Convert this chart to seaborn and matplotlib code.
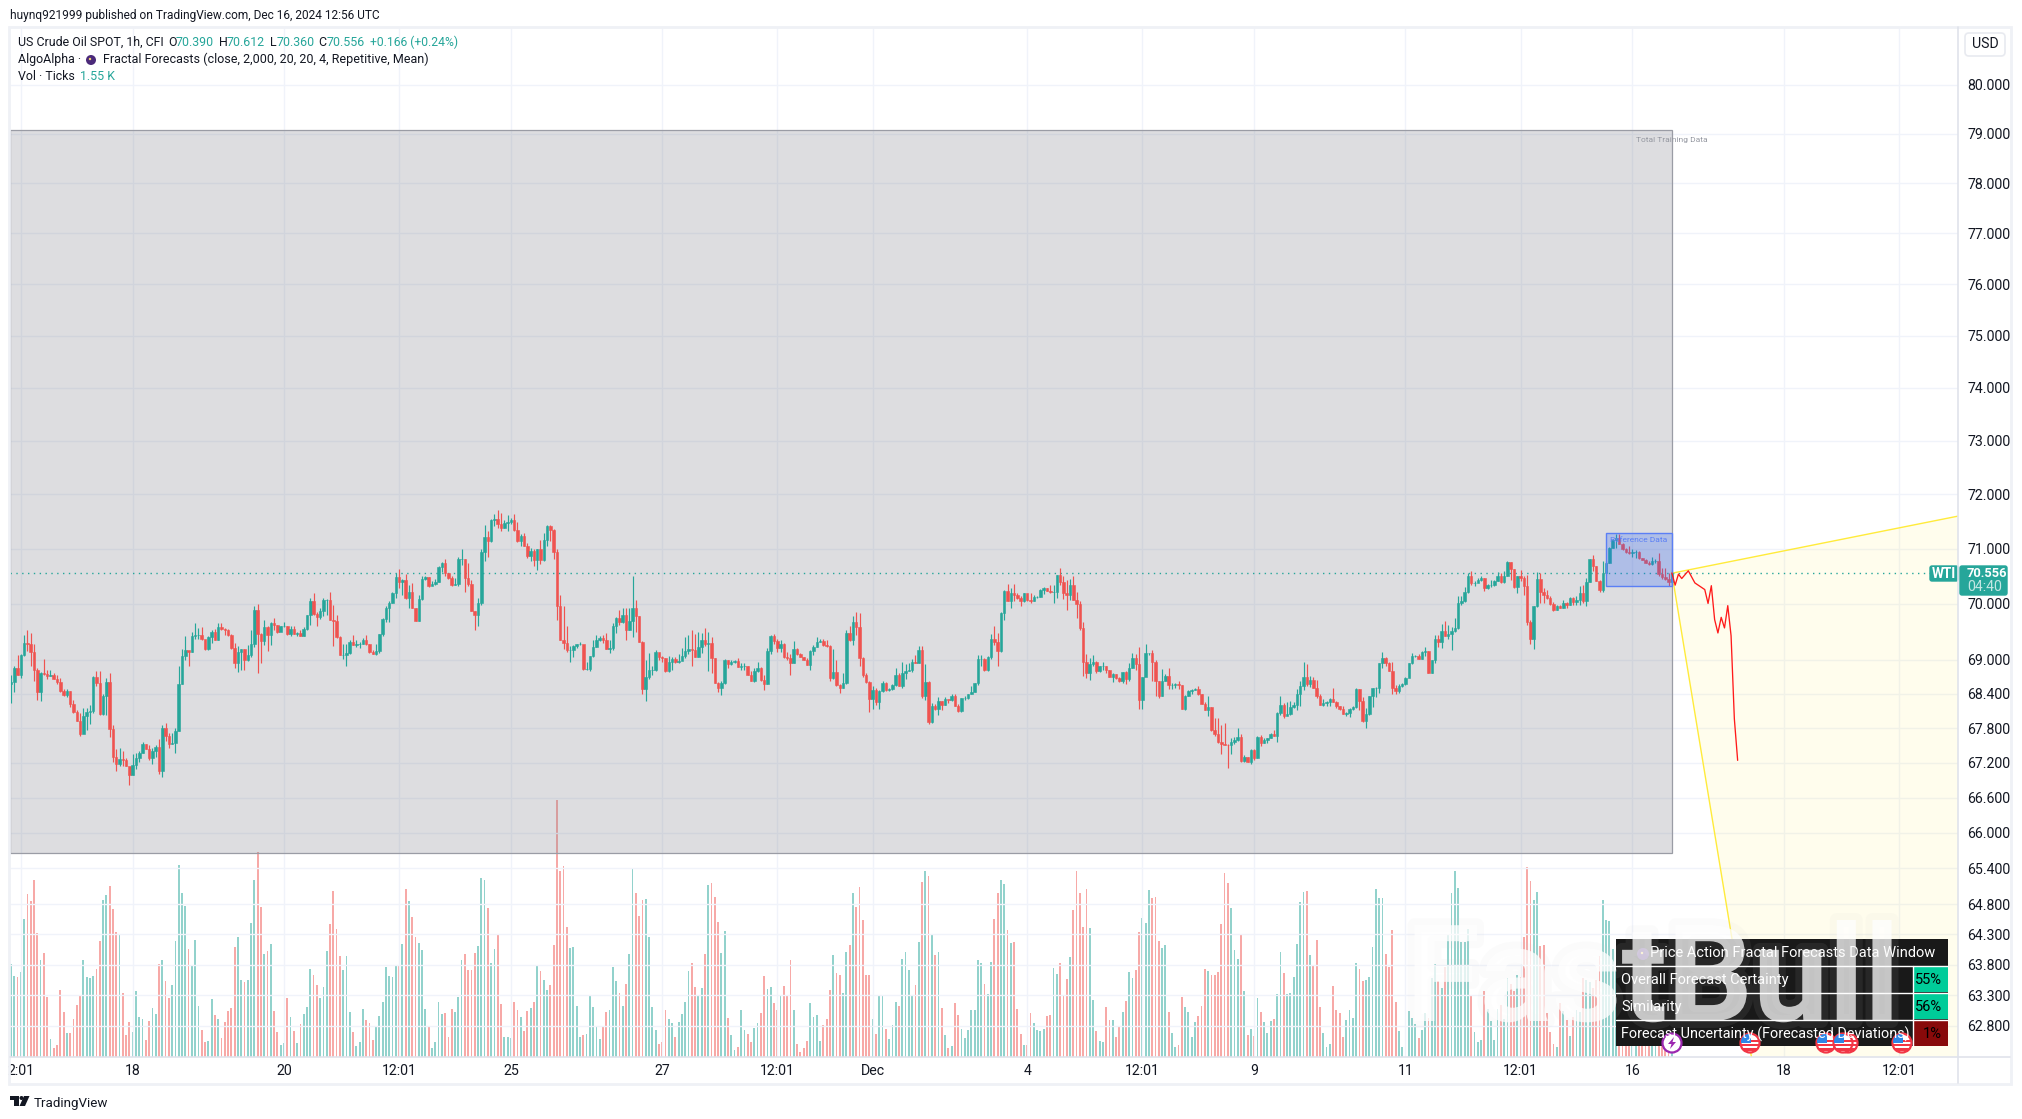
import numpy as np
import pandas as pd
import seaborn as sns
import matplotlib.pyplot as plt
import matplotlib.patheffects as pe
from matplotlib.patches import Circle, FancyBboxPatch, Polygon, Rectangle
from matplotlib.ticker import FixedLocator, FuncFormatter, NullLocator

# hourly closes, highs, lows
first_open = 68.57
closes = [
    68.61,68.85,68.73,69.09,69.30,69.29,69.14,68.83,68.44,68.77,
    68.75,68.72,68.74,68.66,68.61,68.45,68.38,68.45,68.23,68.09,
    67.92,67.70,68.01,68.08,68.10,68.70,68.59,68.05,68.36,68.61,
    67.78,67.29,67.17,67.26,67.25,67.15,66.99,67.16,67.28,67.37,
    67.53,67.43,67.28,67.41,67.48,67.06,67.81,67.67,67.53,67.54,
    67.75,68.58,69.07,69.17,69.14,69.43,69.44,69.44,69.38,69.19,
    69.41,69.50,69.35,69.59,69.55,69.54,69.44,69.21,68.95,69.14,
    69.19,69.00,69.09,69.28,69.89,69.46,69.33,69.58,69.44,69.66,
    69.62,69.49,69.61,69.61,69.47,69.55,69.47,69.48,69.43,69.55,
    69.80,70.06,69.82,69.76,69.87,70.08,70.08,69.72,69.69,69.41,
    69.08,69.09,69.12,69.32,69.26,69.28,69.28,69.36,69.28,69.14,
    69.11,69.16,69.46,69.73,69.92,70.02,70.20,70.48,70.39,70.44,
    70.10,70.22,69.93,69.70,70.09,70.45,70.49,70.33,70.36,70.39,
    70.66,70.74,70.56,70.47,70.35,70.36,70.81,70.81,70.47,70.36,
    69.88,69.81,70.01,70.94,71.22,71.14,71.53,71.54,71.46,
    71.39,71.47,71.50,71.53,71.35,71.14,71.24,71.06,70.87,70.96,
    70.80,70.99,70.80,71.17,71.41,71.35,70.94,69.96,69.36,69.30,
    69.18,69.18,69.24,69.29,69.29,68.84,68.84,69.07,69.23,69.36,
    69.39,69.35,69.20,69.22,69.61,69.74,69.67,69.80,69.54,69.70,
    69.93,69.78,69.31,68.48,68.69,68.83,68.83,69.14,69.05,69.03,
    68.80,68.97,69.02,68.97,68.98,69.07,69.16,69.20,69.17,69.06,
    69.23,69.36,69.29,69.30,69.03,68.59,68.51,68.59,68.99,68.92,
    68.97,68.98,68.87,68.90,68.90,68.74,68.63,68.80,68.85,68.65,
    68.57,69.16,69.42,69.34,69.22,69.29,69.06,69.03,68.94,69.20,
    69.10,69.06,69.00,68.91,69.16,69.23,69.32,69.34,69.26,69.25,
    68.68,68.78,68.55,68.51,68.59,69.48,69.35,69.68,69.58,69.03,
    68.74,68.61,68.31,68.47,68.25,68.45,68.59,68.46,68.48,68.56,
    68.74,68.54,68.76,68.81,68.82,68.97,68.95,69.18,68.36,68.61,
    67.90,68.19,68.14,68.28,68.21,68.31,68.29,68.37,68.19,68.10,
    68.32,68.33,68.39,68.44,68.59,69.02,69.02,68.83,69.05,69.38,
    69.31,69.15,69.83,70.23,70.06,70.20,70.17,70.10,70.05,70.19,
    70.07,70.05,70.13,70.13,70.26,70.28,70.24,70.21,70.21,70.53,
    70.39,70.20,70.17,70.35,70.07,70.00,69.56,68.96,68.76,68.92,
    68.97,68.81,68.89,68.89,68.82,68.69,68.75,68.68,68.63,68.78,
    68.66,68.86,69.04,68.92,68.29,68.69,69.12,69.12,68.97,68.63,
    68.37,68.63,68.71,68.56,68.56,68.58,68.56,68.14,68.36,68.45,
    68.46,68.48,68.39,68.23,68.12,68.17,67.76,67.70,67.56,67.53,
    67.51,67.50,67.56,67.60,67.64,67.23,67.30,67.22,67.42,67.28,
    67.64,67.54,67.60,67.62,67.70,67.67,68.07,68.21,68.02,68.05,
    68.17,68.21,68.39,68.54,68.70,68.57,68.64,68.51,68.37,68.21,
    68.24,68.25,68.31,68.26,68.18,68.14,68.05,68.07,68.14,68.17,
    68.48,68.28,67.92,68.04,68.36,68.50,68.51,68.94,69.04,68.94,
    68.80,68.51,68.45,68.53,68.57,68.68,68.94,69.07,69.07,69.02,
    69.14,69.15,68.77,68.99,69.38,69.31,69.52,69.43,69.46,69.51,
    69.57,70.01,70.06,70.22,70.51,70.38,70.38,70.43,70.47,70.28,
    70.34,70.34,70.42,70.50,70.39,70.51,70.76,70.63,70.31,70.50,
    70.47,70.33,69.67,69.38,69.97,70.45,70.21,70.16,70.11,70.00,
    69.89,69.97,69.93,70.02,69.98,70.10,70.04,70.08,70.20,70.06,
    70.40,70.81,
    70.68,70.42,70.26,70.56,70.74,71.02,71.17,71.20,71.09,70.99,
    70.94,70.93,70.94,70.94,70.83,70.80,70.75,70.72,70.78,70.78,
    70.54,70.48,70.45,70.40,70.556,
]
highs = [
    68.74,68.90,69.09,69.11,69.45,69.54,69.48,69.29,68.85,68.79,
    69.02,68.83,68.83,68.77,68.73,68.68,68.49,68.49,68.45,68.29,
    68.12,68.07,68.16,68.16,68.21,68.72,68.81,68.80,68.40,68.68,
    68.77,67.86,67.43,67.46,67.40,67.28,67.08,67.35,67.37,67.41,
    67.56,67.53,67.50,67.46,67.50,67.61,67.85,67.89,67.72,67.72,
    67.80,68.89,69.20,69.42,69.15,69.50,69.65,69.56,69.58,69.36,
    69.43,69.54,69.55,69.65,69.65,69.57,69.55,69.46,69.30,69.24,
    69.20,69.20,69.26,69.54,69.96,70.00,69.48,69.72,69.60,69.68,
    69.74,69.62,69.61,69.68,69.61,69.60,69.61,69.50,69.54,69.58,
    69.81,70.10,70.19,69.85,69.92,70.10,70.09,70.22,69.98,69.80,
    69.42,69.29,69.29,69.36,69.44,69.35,69.32,69.39,69.44,69.29,
    69.18,69.29,69.47,69.74,69.97,70.05,70.22,70.56,70.63,70.45,
    70.54,70.35,70.38,69.93,70.17,70.50,70.51,70.48,70.42,70.45,
    70.68,70.76,70.81,70.56,70.50,70.47,70.85,70.99,70.81,70.74,
    70.44,69.88,70.10,71.00,71.44,71.33,71.54,71.63,71.72,
    71.66,71.53,71.62,71.57,71.63,71.50,71.27,71.29,71.11,71.02,
    71.00,70.99,71.17,71.29,71.44,71.44,71.37,70.99,70.16,69.97,
    69.61,69.24,69.26,69.29,69.31,69.21,68.97,69.07,69.35,69.44,
    69.43,69.44,69.48,69.35,69.65,69.77,69.90,69.92,69.93,69.93,
    70.51,70.08,69.78,69.34,68.99,69.13,68.90,69.18,69.12,69.07,
    69.04,69.07,69.06,69.05,69.11,69.22,69.40,69.45,69.53,69.46,
    69.49,69.48,69.56,69.49,69.40,69.04,68.61,68.63,69.02,68.99,
    69.00,69.00,69.04,68.94,68.94,68.90,68.80,68.85,68.97,68.87,
    68.74,69.22,69.44,69.46,69.37,69.36,69.30,69.14,69.11,69.34,
    69.21,69.12,69.06,69.03,69.17,69.26,69.40,69.37,69.37,69.36,
    69.26,69.20,69.00,68.58,68.76,69.54,69.60,69.79,69.85,69.84,
    69.05,68.77,68.62,68.53,68.50,68.47,68.63,68.61,68.51,68.58,
    68.86,68.77,68.97,68.92,68.95,69.02,69.09,69.25,69.24,68.92,
    68.63,68.24,68.22,68.34,68.28,68.34,68.30,68.40,68.40,68.22,
    68.33,68.36,68.40,68.53,68.60,69.09,69.09,69.03,69.07,69.46,
    69.61,69.48,69.85,70.26,70.36,70.28,70.36,70.20,70.14,70.20,
    70.17,70.19,70.17,70.14,70.27,70.30,70.29,70.35,70.35,70.53,
    70.65,70.51,70.44,70.45,70.51,70.22,70.06,69.68,69.10,69.04,
    69.08,68.98,68.90,68.96,68.90,68.83,68.76,68.75,68.69,68.79,
    68.80,68.95,69.12,69.10,69.23,68.69,69.28,69.12,69.18,69.00,
    68.63,68.84,68.75,68.86,68.60,68.60,68.62,68.55,68.38,68.47,
    68.48,68.50,68.54,68.39,68.25,68.36,68.17,67.97,67.97,67.85,
    67.89,67.53,67.63,67.64,67.80,67.69,67.34,67.30,67.44,67.44,
    67.66,67.68,67.62,67.63,67.72,67.77,68.09,68.36,68.24,68.26,
    68.28,68.25,68.48,68.62,68.97,68.92,68.72,68.70,68.65,68.39,
    68.31,68.28,68.32,68.50,68.27,68.18,68.18,68.09,68.15,68.18,
    68.50,68.48,68.34,68.15,68.36,68.51,68.52,68.94,69.14,69.06,
    68.96,68.97,68.55,68.57,68.60,68.70,68.95,69.13,69.09,69.11,
    69.15,69.23,69.15,69.00,69.44,69.45,69.64,69.70,69.63,69.59,
    69.75,70.14,70.14,70.30,70.56,70.60,70.42,70.47,70.50,70.47,
    70.36,70.44,70.43,70.57,70.56,70.59,70.78,70.76,70.63,70.50,
    70.62,70.50,70.53,69.72,69.97,70.57,70.56,70.29,70.26,70.14,
    70.03,69.99,69.99,70.08,70.03,70.13,70.13,70.14,70.32,70.34,
    70.47,70.81,
    70.88,70.69,70.44,70.77,70.78,71.03,71.18,71.27,71.27,71.11,
    71.02,71.05,70.99,70.97,70.96,70.83,70.81,70.78,70.85,70.82,
    70.93,70.65,70.65,70.56,70.612,
]
lows = [
    68.24,68.44,68.73,68.68,69.07,69.15,68.89,68.63,68.30,68.27,
    68.73,68.66,68.71,68.66,68.57,68.43,68.37,68.35,68.17,68.07,
    67.92,67.67,67.73,67.76,67.87,68.06,68.54,68.03,68.03,68.03,
    67.65,67.21,67.05,67.15,67.15,67.15,66.81,66.99,67.09,67.22,
    67.37,67.43,67.25,67.18,67.30,67.00,66.95,67.57,67.45,67.53,
    67.36,67.75,68.57,69.00,68.90,69.14,69.38,69.37,69.36,69.18,
    69.18,69.30,69.35,69.35,69.54,69.45,69.43,69.19,68.86,68.79,
    68.82,68.82,68.98,69.06,69.23,68.76,68.95,69.27,69.16,69.27,
    69.54,69.48,69.51,69.59,69.44,69.43,69.46,69.43,69.42,69.43,
    69.54,69.63,69.81,69.60,69.73,69.79,69.81,69.72,69.24,69.39,
    69.08,69.02,68.89,69.11,69.26,69.23,69.22,69.28,69.26,69.13,
    69.11,69.09,69.13,69.43,69.67,69.68,70.01,70.10,70.29,70.17,
    70.09,69.92,69.92,69.69,69.70,70.08,70.44,70.30,70.34,70.35,
    70.40,70.57,70.51,70.46,70.33,70.35,70.33,70.70,70.21,70.33,
    69.87,69.54,69.61,69.99,70.78,70.86,71.12,71.42,71.39,
    71.33,71.39,71.33,71.45,71.33,71.13,71.06,71.06,70.84,70.77,
    70.69,70.62,70.72,70.78,71.06,71.15,70.81,69.71,69.35,69.20,
    69.14,68.96,69.06,69.22,69.27,68.83,68.83,68.81,69.06,69.23,
    69.34,69.30,69.20,69.13,69.17,69.48,69.63,69.65,69.35,69.54,
    69.40,69.49,69.31,68.40,68.28,68.66,68.74,68.81,68.99,68.97,
    68.79,68.79,68.83,68.95,68.95,68.99,69.04,69.10,68.89,69.06,
    69.05,69.13,69.24,68.80,68.76,68.59,68.43,68.38,68.57,68.85,
    68.91,68.95,68.87,68.82,68.82,68.73,68.62,68.61,68.79,68.63,
    68.47,68.57,69.11,69.29,69.14,69.14,69.04,69.00,68.74,68.95,
    69.08,69.05,68.99,68.91,68.83,69.09,69.23,69.31,69.25,69.23,
    68.62,68.66,68.54,68.41,68.50,68.57,69.34,69.27,69.45,68.89,
    68.69,68.60,68.09,68.14,68.21,68.14,68.44,68.45,68.45,68.47,
    68.53,68.54,68.50,68.66,68.81,68.79,68.94,68.95,68.33,68.29,
    67.87,67.89,68.12,68.03,68.12,68.21,68.24,68.27,68.18,68.08,
    68.08,68.29,68.31,68.39,68.43,68.56,68.89,68.80,68.81,69.02,
    69.27,68.90,69.14,69.71,70.05,69.92,70.05,70.09,69.97,70.04,
    70.05,70.01,70.05,70.11,70.12,70.18,70.23,70.19,70.01,70.10,
    70.35,70.09,69.90,70.07,70.07,69.75,69.54,68.72,68.68,68.65,
    68.89,68.77,68.78,68.83,68.76,68.69,68.61,68.66,68.61,68.60,
    68.57,68.63,68.85,68.83,68.13,68.13,68.74,69.09,68.63,68.36,
    68.33,68.36,68.63,68.48,68.48,68.51,68.48,68.14,68.12,68.36,
    68.39,68.46,68.38,68.22,68.11,68.01,67.75,67.67,67.54,67.35,
    67.50,67.10,67.35,67.53,67.58,67.22,67.21,67.21,67.18,67.25,
    67.28,67.49,67.54,67.54,67.62,67.66,67.56,68.03,67.98,68.03,
    68.03,68.15,68.12,68.19,68.47,68.54,68.52,68.50,68.33,68.21,
    68.18,68.19,68.19,68.25,68.16,68.11,68.05,68.02,68.00,68.11,
    68.15,68.12,67.90,67.80,68.03,68.17,68.34,68.41,68.86,68.89,
    68.80,68.39,68.39,68.41,68.52,68.56,68.70,68.92,69.05,69.02,
    69.02,69.07,68.76,68.76,68.95,69.23,69.21,69.42,69.38,69.17,
    69.49,69.55,69.98,70.03,70.19,70.35,70.32,70.41,70.41,70.23,
    70.27,70.30,70.33,70.41,70.38,70.38,70.50,70.44,70.29,70.19,
    70.41,70.17,69.63,69.29,69.20,69.95,70.02,70.02,70.09,69.99,
    69.87,69.89,69.92,69.92,69.93,69.99,69.99,69.99,69.99,70.02,
    69.96,70.40,
    70.59,70.41,70.21,70.21,70.53,70.74,71.02,71.02,71.08,70.98,
    70.93,70.91,70.86,70.83,70.82,70.79,70.74,70.70,70.71,70.75,
    70.51,70.45,70.43,70.32,70.36,
]
# tick volume per bar, thousands
volumes = [
    13.9,12.2,12.0,12.8,20.7,24.5,23.4,26.6,18.6,14.6,
    15.6,9.0,2.7,1.4,1.8,10.1,6.8,3.6,3.6,5.7,
    7.8,9.3,14.6,12.0,11.9,12.2,13.2,17.4,23.6,24.3,
    25.7,22.2,18.8,18.3,9.6,3.3,5.3,3.8,9.9,6.0,
    5.7,2.6,5.4,7.4,6.5,14.0,14.6,11.4,8.9,10.8,
    17.4,28.8,24.6,22.7,16.2,13.8,17.6,7.7,4.1,2.3,
    2.4,8.7,6.3,5.7,2.9,5.3,6.9,7.4,16.5,18.0,
    11.6,11.3,11.6,20.1,26.6,30.7,22.5,15.5,15.9,17.0,
    6.9,3.8,1.8,2.1,8.9,6.0,3.9,2.1,5.0,6.5,
    7.5,13.2,12.3,10.8,8.9,10.5,15.9,20.0,24.9,19.2,
    15.2,13.1,15.2,6.8,3.8,1.7,2.3,7.2,5.6,5.1,
    2.6,4.7,6.2,8.3,13.5,12.2,12.0,13.7,13.7,17.0,
    25.2,23.4,21.0,18.0,17.1,16.1,7.2,4.7,1.4,2.3,
    8.3,6.5,6.6,3.0,7.2,6.8,9.0,14.6,15.5,13.1,
    13.1,15.6,16.7,26.9,26.6,22.4,14.1,16.2,18.3,
    8.0,3.0,3.0,2.9,8.3,7.1,6.0,3.9,6.9,7.4,
    8.3,13.8,12.9,11.6,10.1,10.8,16.8,38.6,27.9,28.7,
    19.5,16.4,16.5,7.7,3.0,3.3,3.5,9.2,7.5,4.5,
    2.7,4.7,6.8,7.1,13.5,11.4,9.6,7.7,11.0,15.5,
    28.2,24.6,21.2,23.6,23.7,18.0,7.5,4.1,2.0,2.3,
    7.1,5.7,5.1,3.0,5.3,6.5,8.3,12.9,14.1,10.5,
    9.2,10.4,15.5,25.8,26.1,24.0,20.3,15.6,18.9,5.9,
    3.3,1.1,1.5,7.1,4.1,3.5,2.3,4.4,5.1,6.6,
    12.2,10.2,10.5,8.1,7.1,9.2,10.7,9.3,14.6,7.1,
    2.0,0.8,1.4,2.4,8.1,6.0,6.3,2.4,4.8,5.7,
    10.1,15.3,12.6,12.3,9.6,15.8,16.8,24.6,22.5,25.5,
    20.6,12.3,12.3,5.7,3.5,9.2,9.2,4.2,2.7,4.8,
    8.3,7.7,14.7,15.8,13.1,9.3,10.8,17.3,26.3,27.9,
    27.2,18.5,15.3,15.8,7.4,3.3,1.4,1.7,8.1,6.3,
    4.2,2.9,4.1,7.1,7.1,14.6,14.1,11.0,9.5,14.3,
    20.7,24.6,26.6,26.0,19.1,17.1,17.3,7.2,3.5,1.8,
    1.8,6.6,5.1,4.1,3.9,4.2,6.2,6.3,13.4,12.5,
    14.1,9.3,11.7,15.0,22.1,27.9,24.6,19.5,25.2,19.4,
    8.6,3.9,2.4,2.3,7.5,5.6,5.6,3.0,4.5,6.8,
    8.4,12.8,11.9,13.1,18.8,20.9,20.1,25.1,23.9,24.0,
    17.4,16.4,16.8,6.8,3.6,1.5,1.8,9.0,7.5,6.8,
    3.0,5.3,6.2,7.7,13.2,12.9,12.3,12.3,12.8,20.0,
    27.6,26.1,22.4,16.1,14.7,18.5,9.9,3.3,4.2,3.2,
    8.9,6.8,5.3,3.6,5.4,5.7,9.5,15.8,12.6,9.5,
    9.6,12.0,17.0,23.3,24.8,24.9,15.3,13.7,17.6,7.5,
    3.6,1.5,2.0,10.7,7.1,6.6,3.0,5.6,7.1,5.9,
    14.1,13.2,11.4,11.6,12.0,16.5,25.2,23.9,23.9,15.5,
    13.5,19.1,8.3,3.9,1.5,1.7,6.9,5.9,5.0,2.9,
    4.1,6.6,5.9,
    11.8,13.9,11.4,10.4,13.5,18.4,24.6,27.9,25.4,17.2,
    17.2,19.2,9.2,3.7,2.2,2.6,9.9,7.2,5.4,2.6,
    7.2,7.8,5.7,11.9,10.9,9.9,12.3,12.0,18.0,28.5,
    26.4,23.6,24.8,16.7,16.8,6.6,3.7,2.0,1.5,8.1,
    6.9,5.6,3.2,6.0,7.1,6.7,11.9,11.5,11.3,10.4,
    11.5,15.2,23.6,20.6,20.4,16.2,
    13.0,10.5,9.0,8.0,7.0,6.5,6.0,5.0,4.5,5.0,
    5.5,5.0,4.5,3.5,3.0,2.5,2.0,1.55,
]
forecast_offsets = [0, 1, 2, 3, 5, 7, 10, 11, 12, 13, 14, 15, 16, 17, 18, 19, 20]
forecast_prices = [70.56, 70.34, 70.54, 70.46, 70.60, 70.38, 70.26, 70.01, 70.33,
                   69.72, 69.48, 69.76, 69.57, 69.97, 69.43, 67.96, 67.24]
price_ticks = [80, 79, 78, 77, 76, 75, 74, 73, 72, 71, 70, 69, 68.4, 67.8, 67.2,
               66.6, 66, 65.4, 64.8, 64.3, 63.8, 63.3, 62.8]
time_ticks = [3, 37, 83, 118, 152, 198, 233, 262, 309, 344, 378, 424, 459, 493, 539, 574]
time_labels = ["2:01", "18", "20", "12:01", "25", "27", "12:01", "Dec", "4", "12:01",
               "9", "11", "12:01", "16", "18", "12:01"]
last_price = 70.556
cone_top = 71.6
cone_bottom = 45.1

TEAL = "#26a69a"
RED = "#ef5350"
INK = "#131722"

W, H = 2022, 1119
sns.set_theme(style="white")
plt.rcParams["font.family"] = ["Roboto", "DejaVu Sans"]

fig = plt.figure(figsize=(W / 100, H / 100), dpi=100, facecolor="white")
rect = [10 / W, (H - 1057) / H, 1948 / W, 1030 / H]

bars = np.arange(len(closes))
closes = np.array(closes)
opens = np.r_[first_open, closes[:-1]]
rising = closes >= opens
xlim = (-0.3, 592)

# volume sits underneath, on its own scale
ax_vol = fig.add_axes(rect, zorder=1)
vol_df = pd.DataFrame({"bar": bars, "vol": volumes, "dir": np.where(rising, "up", "down")})
sns.barplot(data=vol_df, x="bar", y="vol", hue="dir", native_scale=True, dodge=False,
            palette={"up": "#92d2cc", "down": "#f7a9a7"}, saturation=1, width=0.55,
            linewidth=0, errorbar=None, legend=False, ax=ax_vol)
for p in ax_vol.patches:
    p.set_snap(True)
ax_vol.set_xlim(xlim)
ax_vol.set_ylim(0, 154.5)
ax_vol.axis("off")

ax = fig.add_axes(rect, zorder=2, facecolor="none")
ax.set_yscale("log")
ax.set_xlim(xlim)
ax.set_ylim(62.3, 81.2)
ax.yaxis.tick_right()
ax.yaxis.set_major_locator(FixedLocator(price_ticks))
ax.yaxis.set_major_formatter(FuncFormatter(lambda v, _: f"{v:.3f}"))
ax.yaxis.set_minor_locator(NullLocator())
ax.set_xticks(time_ticks, time_labels)
ax.tick_params(axis="y", length=0, pad=6.5, labelsize=10.2, labelcolor=INK)
ax.tick_params(axis="x", length=0, pad=5, labelsize=10.2, labelcolor=INK)
ax.grid(True, color="#f0f3fa", lw=1.0)
ax.set_axisbelow(True)
for s in ax.spines.values():
    s.set_visible(False)

# training data box, forecast cone
ax.add_patch(Rectangle((-0.3, 65.66), 505.3, 79.08 - 65.66, fc=(120 / 255, 123 / 255, 134 / 255, 0.25),
                       ec="#9a9ca5", lw=0.9, zorder=1))
ax.fill_between([505, 592], [last_price, cone_top], [last_price, cone_bottom],
                color="#ffeb3b", alpha=0.09, lw=0, zorder=1)
ax.plot([505, 592], [last_price, cone_top], color="#ffeb3b", lw=1.0, zorder=3)
ax.plot([505, 592], [last_price, cone_bottom], color="#ffeb3b", lw=1.0, zorder=3)

ax.axhline(last_price, color=TEAL, lw=1.0, ls=(0, (1, 3.2)), zorder=2)

colors = np.where(rising, TEAL, RED)
ax.vlines(bars, lows, highs, colors=colors, lw=0.85, zorder=4)
bodies = ax.bar(bars, np.abs(closes - opens), bottom=np.minimum(opens, closes), width=0.76,
                color=colors, edgecolor=colors, lw=0.4, zorder=5)
for b in bodies:
    b.set_snap(True)

# reference window
ax.add_patch(Rectangle((485, 70.33), 20, 71.29 - 70.33, fc=(41 / 255, 98 / 255, 1, 0.25),
                       ec="#5b7ff5", lw=1.0, zorder=6))
ax.text(495, 71.16, "Reference Data", color="#5b7ff5", fontsize=6, ha="center", va="center", zorder=7)
ax.text(505, 78.87, "Total Training Data", color="#9598a1", fontsize=6, ha="center", va="center", zorder=7)

sns.lineplot(x=505 + np.array(forecast_offsets), y=forecast_prices, color="#ff1a1a", lw=0.95,
             estimator=None, sort=False, ax=ax, zorder=6)
ax.set_xlabel("")
ax.set_ylabel("")

# everything else is laid out in image pixels
px = fig.add_axes([0, 0, 1, 1], zorder=3, facecolor="none")
px.set_xlim(0, W)
px.set_ylim(H, 0)
px.axis("off")


def label(x, y, s, color=INK, size=8.9, ha="left", **kw):
    px.text(x, y, s, color=color, fontsize=size, ha=ha, va="center", **kw)


def orb(x, y, r=5):
    px.add_patch(Circle((x, y + 1), r, fc="#4b2a7a", ec="none"))
    px.add_patch(Circle((x - 1, y), 1.2, fc="#f5d76e", ec="none"))


# frame
px.add_patch(Rectangle((9, 26.5), 2002, 1057, fc="none", ec="#eff1f6", lw=2))
px.plot([1958, 1958], [27, 1083], color="#e0e3eb", lw=1.2)
px.plot([10, 2010], [1057, 1057], color="#e0e3eb", lw=1.2)

# header and legend
label(10.5, 15, "huynq921999 published on TradingView.com, Dec 16, 2024 12:56 UTC", size=8.55)
label(18, 42, "US Crude Oil SPOT, 1h, CFI")
for x, letter, x2, val in [(168, "O", 176, "70.390"), (218.5, "H", 227, "70.612"),
                           (270, "L", 276.5, "70.360"), (318.5, "C", 327, "70.556")]:
    label(x, 42, letter)
    label(x2, 42, val, color=TEAL)
label(370, 42, "+0.166 (+0.24%)", color=TEAL, size=8.7)
label(18, 59, "AlgoAlpha ·")
orb(91, 59)
label(103, 59, "Fractal Forecasts (close, 2,000, 20, 20, 4, Repetitive, Mean)", size=9.0)
label(18, 76, "Vol · Ticks")
label(80, 76, "1.55 K", color=TEAL)

# currency button
px.add_patch(FancyBboxPatch((1965, 33), 40, 23, boxstyle="round,pad=0,rounding_size=4",
                            fc="white", ec="#e8eaf0", lw=1.2))
label(1985, 44, "USD", ha="center", size=10.2)

# last price tags
px.add_patch(FancyBboxPatch((1930, 566), 28, 15, boxstyle="round,pad=0,rounding_size=2", fc=TEAL, ec=TEAL))
label(1943.5, 573.5, "WTI", color="white", size=9.8, ha="center", weight="bold")
px.add_patch(FancyBboxPatch((1960, 566), 47, 29, boxstyle="round,pad=0,rounding_size=2", fc=TEAL, ec=TEAL))
label(1967, 573.5, "70.556", color="white", size=9.3, weight="bold")
label(1967, 587, "04:40", color="#c4e7e3", size=10.2)

# data window table
px.add_patch(Rectangle((1616, 939), 332, 107, fc="#191919", ec="none"))
px.add_patch(Rectangle((1913, 966), 35, 26, fc="#00cc99", ec="none"))
px.add_patch(Rectangle((1913, 993), 35, 26, fc="#00cc99", ec="none"))
px.add_patch(Rectangle((1913, 1020), 35, 26, fc="#880a0a", ec="none"))
for yy in (965.5, 992.5, 1019.5):
    px.plot([1616, 1948], [yy, yy], color="white", lw=1.0)
px.plot([1912.5, 1912.5], [966, 1046], color="white", lw=1.0)
orb(1643, 953, 6)
label(1793, 953, "Price Action Fractal Forecasts Data Window", color="white", size=10.5, ha="center")
label(1621, 980, "Overall Forecast Certainty", color="white", size=10.5)
label(1621, 1007, "Similarity", color="white", size=10.5)
label(1621, 1034, "Forecast Uncertainty (Forecasted Deviations)", color="white", size=10.4)
label(1942, 980, "55%", color="black", size=10.5, ha="right")
label(1942, 1007, "56%", color="black", size=10.5, ha="right")
label(1942, 1034, "1%", color="black", size=10.5, ha="right")

# watermark
px.text(1406, 1021, "FastBull", color="white", alpha=0.72, fontsize=97, weight="bold",
        family="Roboto", ha="left", va="baseline",
        path_effects=[pe.withStroke(linewidth=10, foreground="#d0d0d0", alpha=0.08)])


def flag(x, y=1043, r=9.5):
    ring = Circle((x, y), r, fc="white", ec="#f23645", lw=1.6)
    px.add_patch(ring)
    parts = [Rectangle((x - r, y + 0.5), 2 * r, 2.5, fc="#f23645", ec="none"),
             Rectangle((x - r, y + 5), 2 * r, 2.5, fc="#f23645", ec="none"),
             Rectangle((x, y - 3.5), r, 2.5, fc="#f23645", ec="none"),
             Rectangle((x - r, y - r), r + 1, r, fc="#2e86e6", ec="none")]
    for part in parts:
        px.add_patch(part)
        part.set_clip_path(ring)


for fx in (1750, 1826, 1848, 1843, 1902):
    flag(fx)

# session icon
px.add_patch(Circle((1672, 1043), 9.5, fc="white", ec="#9c27b0", lw=1.6))
px.add_patch(Polygon([(1674, 1037), (1668, 1044), (1671.5, 1044), (1670, 1049), (1676, 1042), (1672.5, 1042)],
                     fc="#9c27b0", ec="none"))

# footer logo
px.add_patch(Rectangle((10, 1096), 9, 4, fc=INK, ec="none"))
px.add_patch(Rectangle((14, 1096), 5, 10, fc=INK, ec="none"))
px.add_patch(Circle((21.5, 1098), 2, fc=INK, ec="none"))
px.add_patch(Polygon([(24, 1096), (29.5, 1096), (25, 1106), (19.5, 1106)], fc=INK, ec="none"))
label(33.5, 1103, "TradingView", size=9.6)

fig.savefig("out.png", dpi=100)
